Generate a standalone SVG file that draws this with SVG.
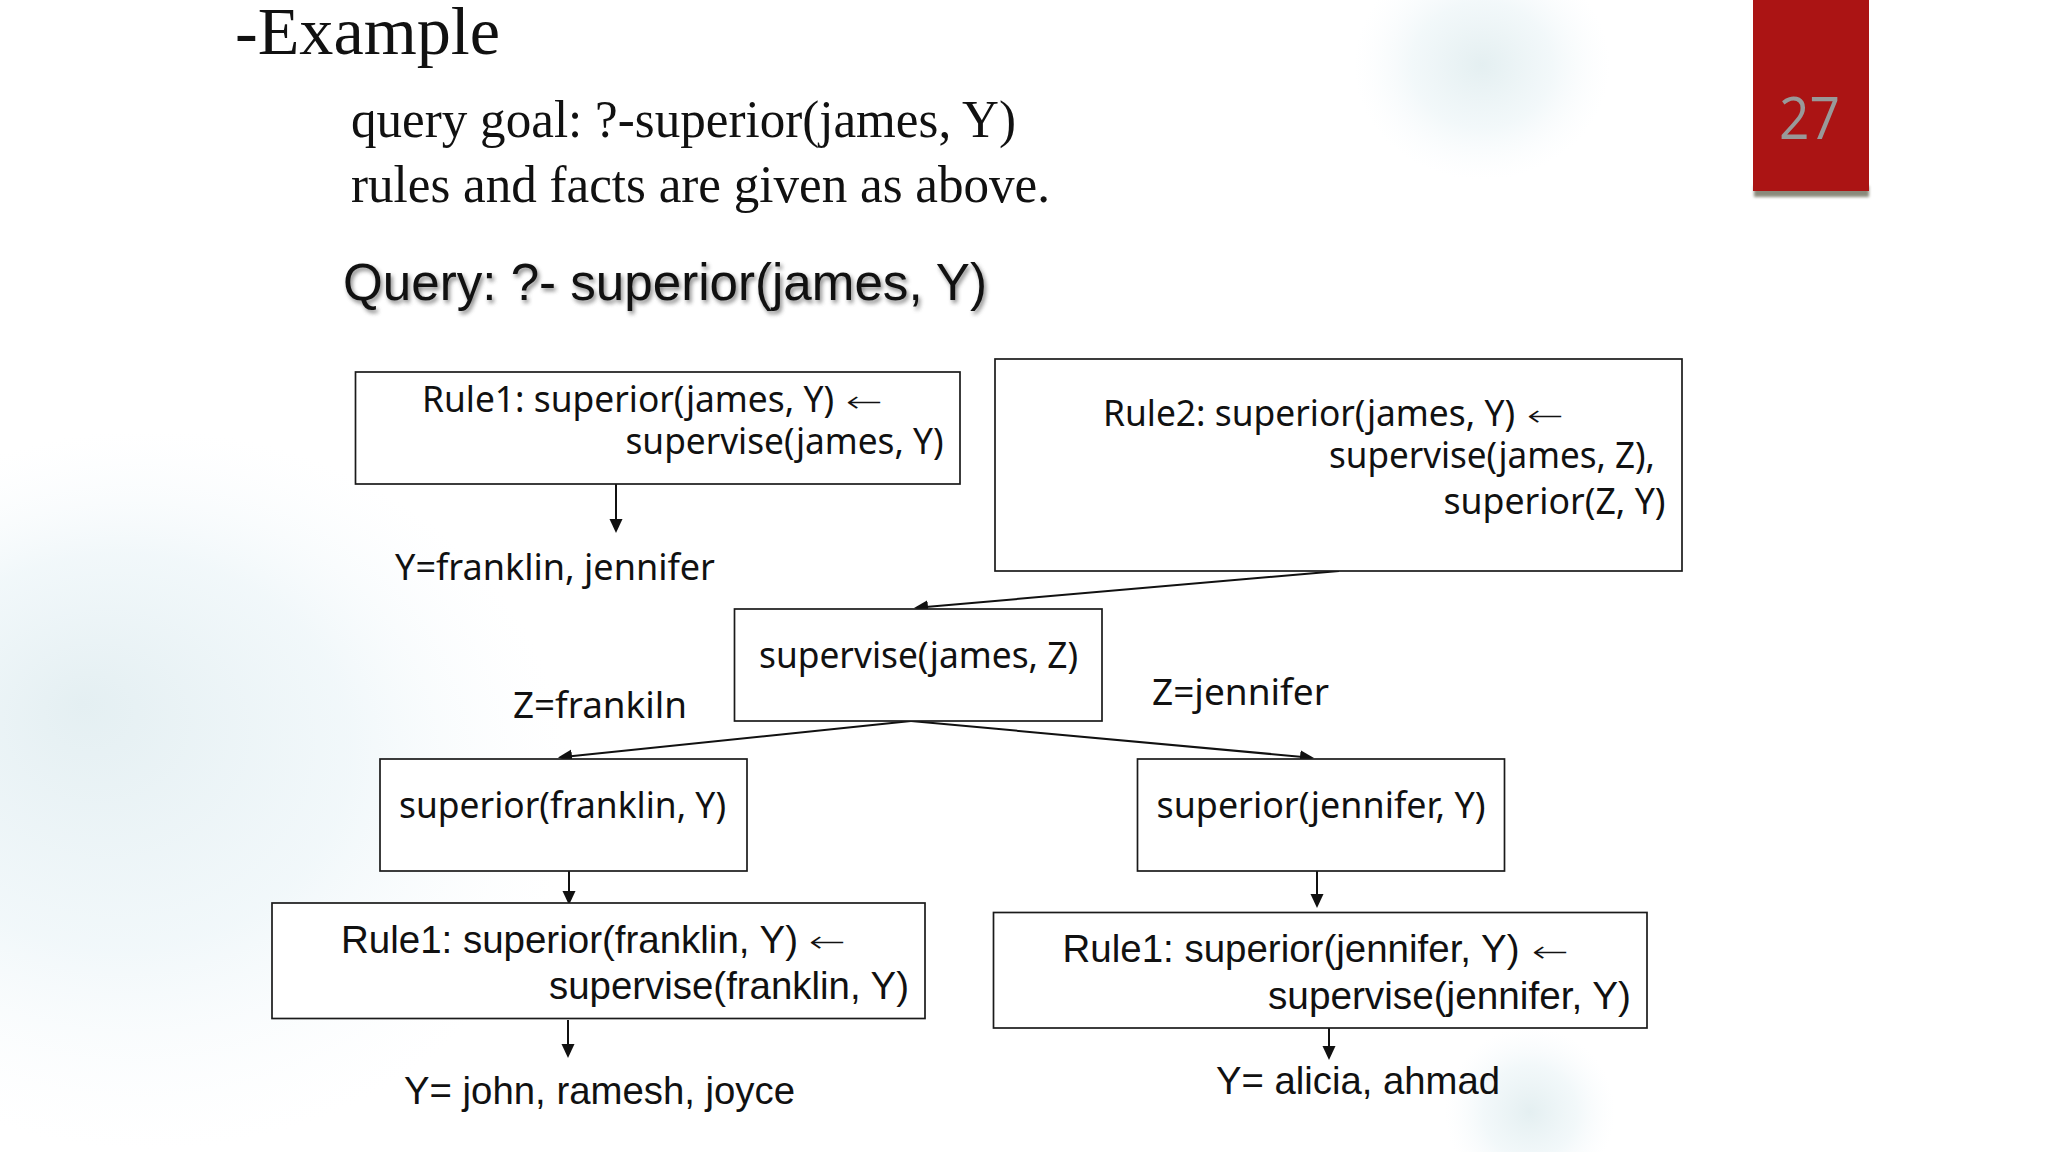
<svg xmlns="http://www.w3.org/2000/svg" width="2048" height="1152" viewBox="0 0 2048 1152">
<style>
.box{fill:#fff;stroke:#1a1a1a;stroke-width:1.7}
.seg{font-family:"Noto Sans","Open Sans",sans-serif;font-size:37px;fill:#111}
.ari{font-family:"Liberation Sans",Arial,sans-serif;font-size:38.500px;fill:#111}
.tim{font-family:"Liberation Serif","Times New Roman",serif;fill:#111}
.arr{font-family:"DejaVu Sans",sans-serif;font-weight:200;font-size:30px;fill:#111}
.con{fill:none;stroke:#111;stroke-width:2;marker-end:url(#ah)}
</style>
<defs>
<marker id="ah" markerUnits="userSpaceOnUse" markerWidth="16" markerHeight="14" refX="11" refY="6.5" orient="auto"><path d="M0 0L14 6.5L0 13z" fill="#111"/></marker>
<radialGradient id="blob" fx=".42" fy=".38"><stop offset="0" stop-color="#e4eff2"/><stop offset=".55" stop-color="#eef6f9" stop-opacity=".8"/><stop offset="1" stop-color="#f8fbfd" stop-opacity="0"/></radialGradient>
<radialGradient id="blob2"><stop offset="0" stop-color="#e4eff1"/><stop offset=".55" stop-color="#f0f7f9" stop-opacity=".85"/><stop offset="1" stop-color="#f8fbfd" stop-opacity="0"/></radialGradient>
<filter id="sh" x="-5%" y="-20%" width="110%" height="140%"><feGaussianBlur stdDeviation="2"/></filter>
<filter id="tabsh" x="-10%" y="-50%" width="120%" height="200%"><feGaussianBlur stdDeviation="1.500"/></filter>
</defs>
<rect width="2048" height="1152" fill="#fff"/>
<ellipse cx="150" cy="790" rx="420" ry="360" fill="url(#blob)"/>
<ellipse cx="1482" cy="65" rx="128" ry="115" fill="url(#blob2)"/>
<ellipse cx="1530" cy="1112" rx="85" ry="85" fill="url(#blob2)"/>
<g id="page-tab">
<rect x="1754" y="186" width="115" height="11" fill="#8a8a7c" filter="url(#tabsh)"/>
<rect x="1753" y="-2" width="116" height="193" fill="#ab1414"/>
<text x="1779" y="139" font-family="'Open Sans',sans-serif" font-size="59" fill="#999" textLength="61" lengthAdjust="spacingAndGlyphs">27</text>
</g>
<g id="heading">
<text class="tim" x="235" y="54" font-size="68" textLength="265" lengthAdjust="spacingAndGlyphs">-Example</text>
<text class="tim" x="351" y="137" font-size="53" textLength="665" lengthAdjust="spacingAndGlyphs">query goal: ?-superior(james, Y)</text>
<text class="tim" x="351" y="202" font-size="53" textLength="699" lengthAdjust="spacingAndGlyphs">rules and facts are given as above.</text>
<text x="345" y="303" font-family="'Liberation Sans',sans-serif" font-size="52" fill="#555" opacity=".7" filter="url(#sh)" textLength="644" lengthAdjust="spacingAndGlyphs">Query: ?- superior(james, Y)</text>
<text x="343" y="300" font-family="'Liberation Sans',sans-serif" font-size="52" fill="#111" textLength="644" lengthAdjust="spacingAndGlyphs">Query: ?- superior(james, Y)</text>
</g>
<g id="connectors">
<path class="con" d="M616 484V530"/>
<path class="con" d="M1339 571L917 607.7"/>
<path class="con" d="M911 721L561 757.2"/>
<path class="con" d="M911 721L1311 757.7"/>
<path class="con" d="M569 871V902"/>
<path class="con" d="M1317 871V905"/>
<path class="con" d="M568 1020V1055"/>
<path class="con" d="M1329 1023V1057"/>
</g>
<g id="rule1-james">
<rect class="box" x="355.500" y="372" width="604.500" height="112"/>
<text class="seg" x="422" y="412" textLength="412" lengthAdjust="spacingAndGlyphs">Rule1: superior(james, Y)</text>
<text class="arr" x="846" y="412" textLength="37" lengthAdjust="spacingAndGlyphs">←</text>
<text class="seg" x="625.500" y="453.500" textLength="318" lengthAdjust="spacingAndGlyphs">supervise(james, Y)</text>
</g>
<g id="rule2-james">
<rect class="box" x="995" y="359" width="687" height="212"/>
<text class="seg" x="1103" y="426" textLength="412" lengthAdjust="spacingAndGlyphs">Rule2: superior(james, Y)</text>
<text class="arr" x="1527" y="426" textLength="37" lengthAdjust="spacingAndGlyphs">←</text>
<text class="seg" x="1329" y="468" textLength="326" lengthAdjust="spacingAndGlyphs">supervise(james, Z),</text>
<text class="seg" x="1443.500" y="514" textLength="222" lengthAdjust="spacingAndGlyphs">superior(Z, Y)</text>
</g>
<g id="answer-rule1"><text class="seg" x="395" y="580" textLength="320" lengthAdjust="spacingAndGlyphs">Y=franklin, jennifer</text></g>
<g id="supervise-james">
<rect class="box" x="734.500" y="609" width="367.500" height="112"/>
<text class="seg" x="759" y="668" textLength="319" lengthAdjust="spacingAndGlyphs">supervise(james, Z)</text>
</g>
<g id="label-frankiln"><text class="seg" x="513" y="718" textLength="174" lengthAdjust="spacingAndGlyphs">Z=frankiln</text></g>
<g id="label-jennifer"><text class="seg" x="1152" y="705" textLength="177" lengthAdjust="spacingAndGlyphs">Z=jennifer</text></g>
<g id="superior-franklin">
<rect class="box" x="380" y="759" width="367" height="112"/>
<text class="seg" x="399" y="818" textLength="327" lengthAdjust="spacingAndGlyphs">superior(franklin, Y)</text>
</g>
<g id="superior-jennifer">
<rect class="box" x="1137.500" y="759" width="367" height="112"/>
<text class="seg" x="1156.500" y="818" textLength="329" lengthAdjust="spacingAndGlyphs">superior(jennifer, Y)</text>
</g>
<g id="rule1-franklin">
<rect class="box" x="272" y="903" width="653" height="115.500"/>
<text class="ari" x="341" y="952.500" textLength="457" lengthAdjust="spacingAndGlyphs">Rule1: superior(franklin, Y)</text>
<text class="arr" x="809" y="952" textLength="37" lengthAdjust="spacingAndGlyphs">←</text>
<text class="ari" x="549" y="998.500" textLength="360" lengthAdjust="spacingAndGlyphs">supervise(franklin, Y)</text>
</g>
<g id="rule1-jennifer">
<rect class="box" x="993.500" y="912.500" width="653.500" height="115.500"/>
<text class="ari" x="1062.500" y="961.500" textLength="457" lengthAdjust="spacingAndGlyphs">Rule1: superior(jennifer, Y)</text>
<text class="arr" x="1532" y="961.500" textLength="37" lengthAdjust="spacingAndGlyphs">←</text>
<text class="ari" x="1268" y="1008.500" textLength="363" lengthAdjust="spacingAndGlyphs">supervise(jennifer, Y)</text>
</g>
<g id="answer-franklin"><text class="ari" x="404" y="1103.500" textLength="391" lengthAdjust="spacingAndGlyphs">Y= john, ramesh, joyce</text></g>
<g id="answer-jennifer"><text class="ari" x="1216" y="1094" textLength="284" lengthAdjust="spacingAndGlyphs">Y= alicia, ahmad</text></g>
</svg>
